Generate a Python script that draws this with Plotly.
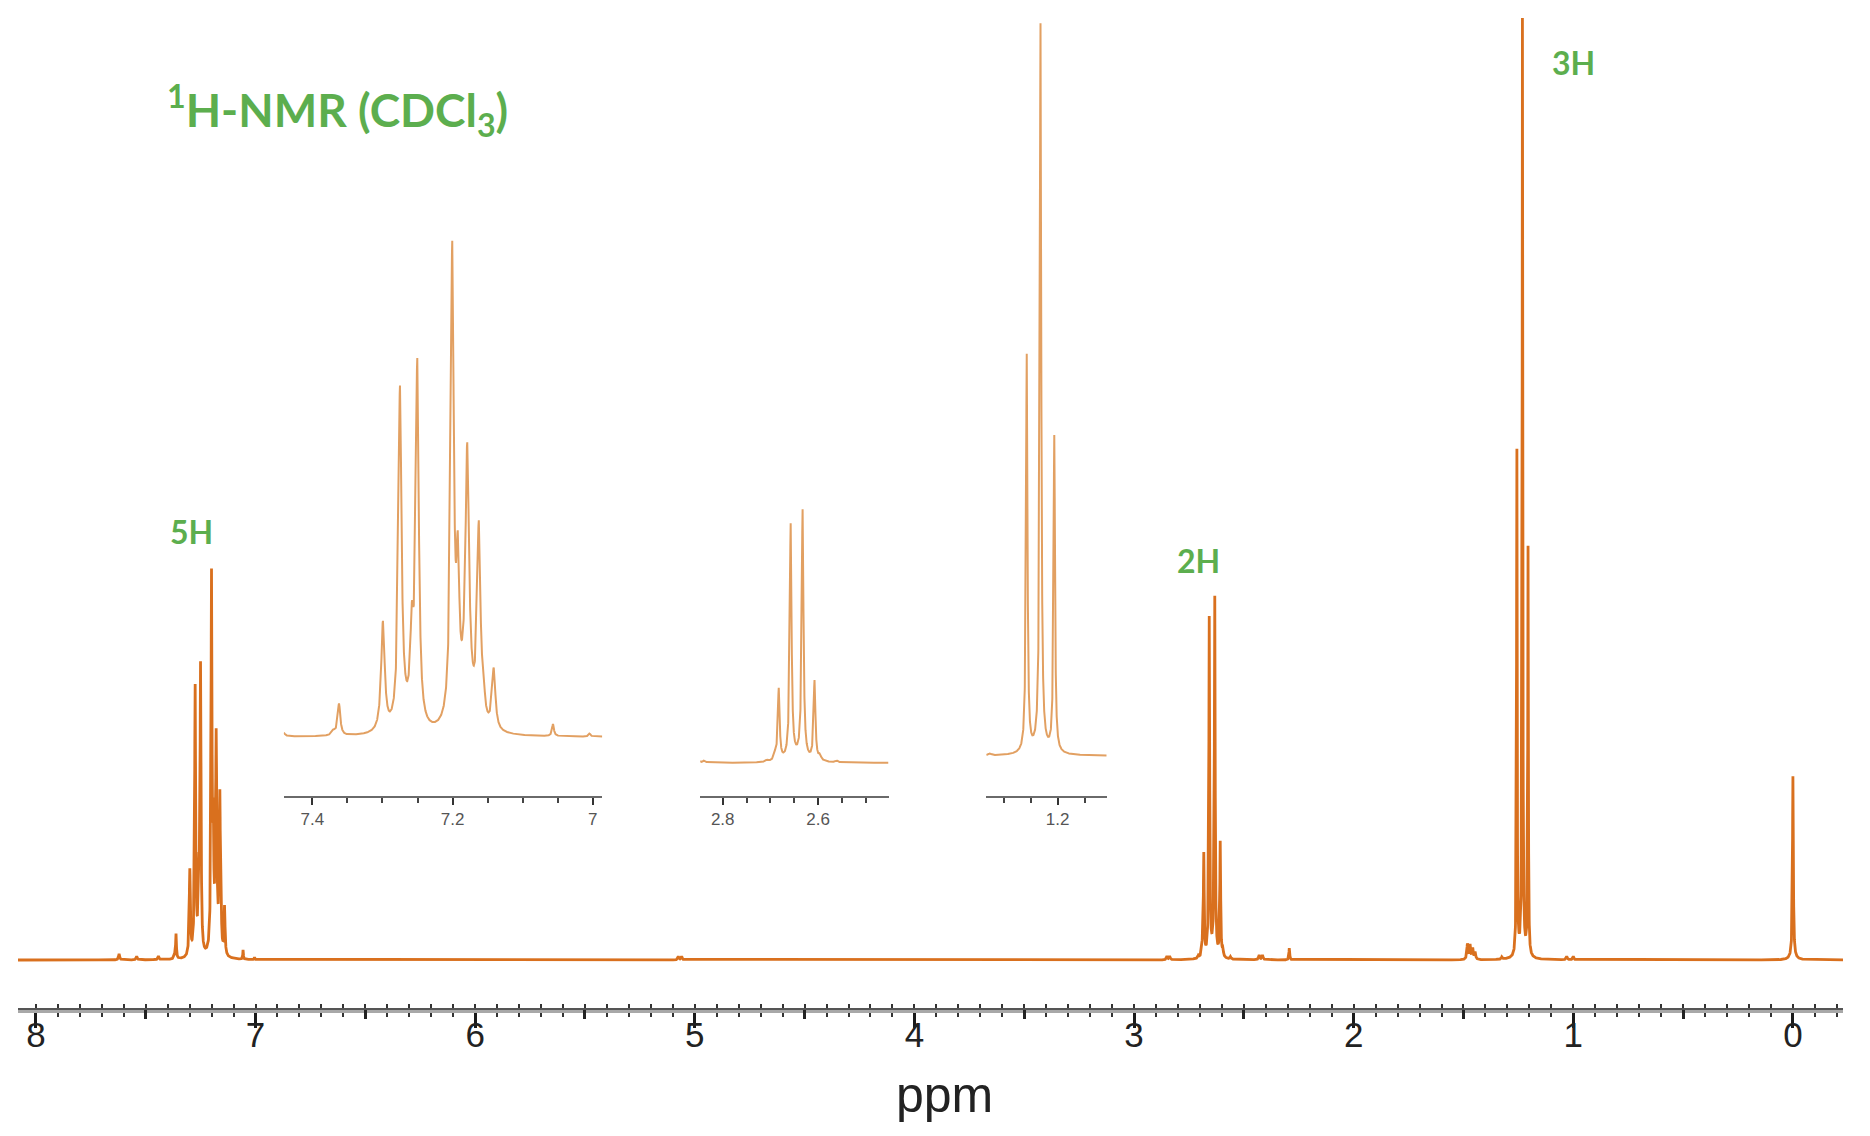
import numpy as np
import plotly.graph_objects as go

# ---------------- data ----------------
# Aromatic multiplet (5H) : shift (ppm), peak height (a.u.), half width (ppm)
arom_ppm = [7.621, 7.541, 7.442, 7.370, 7.362, 7.2993, 7.2750, 7.2580, 7.2503, 7.2004,
            7.1924, 7.1790, 7.1625, 7.1560, 7.1412, 7.0566, 7.0045, 7.180, 7.270]
arom_int = [5, 3, 3, 3, 21, 72, 220, 55, 238, 311,
            88, 161, 128, 18, 40, 8, 2, 22, 8]
arom_hw = [0.003, 0.003, 0.003, 0.003, 0.0022, 0.0030, 0.0026, 0.0028, 0.0026, 0.0026,
           0.0025, 0.0030, 0.0028, 0.0020, 0.0028, 0.0016, 0.0016, 0.010, 0.010]

# CH2 quartet (2H)
quart_ppm = [2.707, 2.690, 2.6825, 2.6575, 2.6325, 2.6075, 2.596, 2.561, 2.645]
quart_int = [2, 7, 86, 283, 300, 96, 6, 2, 4]
quart_hw = [0.003, 0.003, 0.0022, 0.0022, 0.0022, 0.0022, 0.003, 0.003, 0.02]

# CH3 triplet (3H)
trip_ppm = [1.257, 1.2315, 1.206, 1.2315]
trip_int = [430, 785, 342, 5]
trip_hw = [0.0016, 0.0016, 0.0016, 0.02]

# small signals (impurities, TMS)
small_ppm = [5.075, 5.060, 2.850, 2.838, 2.430, 2.415, 2.293, 1.482, 1.470, 1.458,
             1.447, 1.325, 1.030, 1.000, 0.000, 0.000]
small_int = [3, 3, 3, 3, 4, 4, 10, 13, 12, 9,
             6, 2, 3, 3, 150, 4]
small_hw = [0.003, 0.003, 0.003, 0.003, 0.003, 0.003, 0.002, 0.003, 0.003, 0.003,
            0.003, 0.003, 0.003, 0.003, 0.0022, 0.012]

main_tick_vals = [0, 1, 2, 3, 4, 5, 6, 7, 8]
main_tick_text = ["0", "1", "2", "3", "4", "5", "6", "7", "8"]
half_tick_vals = [0.5, 1.5, 2.5, 3.5, 4.5, 5.5, 6.5, 7.5]

inset1_vals = [7.4, 7.2, 7.0]
inset1_text = ["7.4", "7.2", "7"]
inset2_vals = [2.8, 2.6]
inset2_text = ["2.8", "2.6"]
inset3_vals = [1.2]
inset3_text = ["1.2"]

integrals = ["5H", "2H", "3H"]

# ---------------- spectrum from peak list ----------------
pk_ppm = np.array(arom_ppm + quart_ppm + trip_ppm + small_ppm)
pk_int = np.array(arom_int + quart_int + trip_int + small_int, dtype=float)
pk_hw = np.array(arom_hw + quart_hw + trip_hw + small_hw)


def spectrum(x):
    x = np.asarray(x)[:, None]
    g2 = pk_hw[None, :] ** 2
    return (pk_int[None, :] * g2 / (g2 + (x - pk_ppm[None, :]) ** 2)).sum(axis=1)


MAIN = "#D9701E"
INSET = "#E2A062"
GREEN = "#5CAE4E"
AX_FONT = "Liberation Sans, Arial, sans-serif"

fig = go.Figure()

xm = np.arange(-0.23, 8.085, 0.0004)
fig.add_trace(go.Scatter(x=np.round(xm, 4), y=np.round(spectrum(xm), 2), mode="lines",
                         line=dict(color=MAIN, width=2.8), xaxis="x", yaxis="y",
                         hoverinfo="skip", showlegend=False))

inset_ranges = [(7.4408, 6.9863), (2.8474, 2.4524), (1.3319, 1.1089)]
for i, (lo, hi) in enumerate(inset_ranges, start=2):
    xi = np.arange(hi, lo, 0.0001)
    fig.add_trace(go.Scatter(x=np.round(xi, 4), y=np.round(spectrum(xi), 2), mode="lines",
                             line=dict(color=INSET, width=2), xaxis=f"x{i}", yaxis=f"y{i}",
                             hoverinfo="skip", showlegend=False))

# helper trace for the overlaid tick axis
fig.add_trace(go.Scatter(x=[4], y=[None], xaxis="x5", yaxis="y", mode="lines",
                         hoverinfo="skip", showlegend=False))

inset_x_common = dict(showgrid=False, zeroline=False, showline=True, linecolor="#6a6a6a",
                      linewidth=1.5, ticks="outside", ticklen=7, tickwidth=2, tickcolor="#333",
                      tickfont=dict(family=AX_FONT, size=17, color="#555"),
                      minor=dict(dtick=0.05, tick0=0, ticks="outside", ticklen=5,
                                 tickwidth=1.8, tickcolor="#444"),
                      fixedrange=True)
inset_y_common = dict(visible=False, fixedrange=True)

RANGE_MAIN = [8.0815, -0.228]

fig.update_layout(
    width=1862, height=1128,
    margin=dict(l=10, r=27, t=0, b=128),
    paper_bgcolor="white", plot_bgcolor="white", showlegend=False,
    xaxis=dict(range=RANGE_MAIN, domain=[0, 1], anchor="y", showgrid=False,
               zeroline=False, showline=True, linecolor="#a8a8a8", linewidth=5,
               ticks="outside", tickvals=main_tick_vals, ticktext=main_tick_text,
               ticklen=15, tickwidth=2.5, tickcolor="#1a1a1a", ticklabelstandoff=-23,
               tickfont=dict(family=AX_FONT, size=35, color="#222"),
               minor=dict(dtick=0.1, tick0=0, ticks="outside", ticklen=4,
                          tickwidth=2, tickcolor="#333")),
    xaxis5=dict(range=RANGE_MAIN, overlaying="x", anchor="y", side="bottom",
                showgrid=False, zeroline=False, showline=True, linecolor="#555",
                linewidth=1.5, ticks="outside", tickvals=half_tick_vals, ticklen=9,
                tickwidth=2.5, tickcolor="#222", showticklabels=False,
                minor=dict(dtick=0.1, tick0=0, ticks="inside", ticklen=4,
                           tickwidth=2, tickcolor="#333")),
    yaxis=dict(range=[-40.25, 798.3], domain=[0, 1], visible=False, fixedrange=True),
    xaxis2=dict(domain=[0.14564, 0.32016], range=list(inset_ranges[0]), anchor="y2",
                tickvals=inset1_vals, ticktext=inset1_text, **inset_x_common),
    yaxis2=dict(domain=[0.212, 0.808], range=[-39.0, 355.2], anchor="x2", **inset_y_common),
    xaxis3=dict(domain=[0.37375, 0.47699], range=list(inset_ranges[1]), anchor="y3",
                tickvals=inset2_vals, ticktext=inset2_text, **inset_x_common),
    yaxis3=dict(domain=[0.212, 0.608], range=[-39.8, 437.9], anchor="x3", **inset_y_common),
    xaxis4=dict(domain=[0.53058, 0.59655], range=list(inset_ranges[2]), anchor="y4",
                tickvals=inset3_vals, ticktext=inset3_text, **inset_x_common),
    yaxis4=dict(domain=[0.212, 0.998], range=[-43.3, 807.3], anchor="x4", **inset_y_common),
)

fig.add_annotation(text="ppm", xref="paper", yref="paper", x=0.5074, y=-0.087,
                   xanchor="center", yanchor="middle", showarrow=False,
                   font=dict(family=AX_FONT, size=50, color="#222"))
fig.add_annotation(text="<b><sup>1</sup>H-NMR (CDCl<sub>3</sub>)</b>", xref="paper", yref="paper",
                   x=0.0805, y=0.898, xanchor="left", yanchor="middle", showarrow=False,
                   font=dict(family="Lato, Open Sans, sans-serif", size=46, color=GREEN))
label_pos = [(0.0948, 0.477), (0.647, 0.4475), (0.8526, 0.946)]
for txt, (lx, ly) in zip(integrals, label_pos):
    fig.add_annotation(text=f"<b>{txt}</b>", xref="paper", yref="paper", x=lx, y=ly,
                       xanchor="center", yanchor="middle", showarrow=False,
                       font=dict(family="Lato, Open Sans, sans-serif", size=32, color=GREEN))

fig.write_html("out.html")
